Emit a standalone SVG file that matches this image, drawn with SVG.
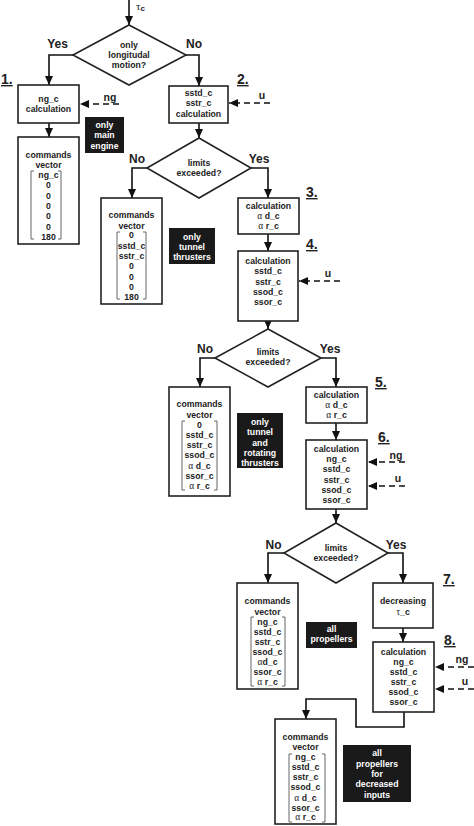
<svg xmlns="http://www.w3.org/2000/svg" width="474" height="826" viewBox="0 0 474 826">
<defs>
<marker id="ah" markerUnits="userSpaceOnUse" markerWidth="9" markerHeight="8" refX="9" refY="4" orient="auto">
<path d="M0,0 L9,4 L0,8 z" fill="#111"/>
</marker>
</defs>
<style>
text{font-family:"Liberation Sans",Arial,sans-serif;font-weight:bold;fill:#222;}
.t{font-size:8.7px;text-anchor:middle;}
.w{font-size:8.7px;text-anchor:middle;fill:#fff;}
.yn{font-size:12px;text-anchor:middle;}
.st{font-size:14px;text-decoration:underline;}
.in{font-size:10.5px;text-anchor:middle;}
.a{font-family:"Liberation Serif","Times New Roman",serif;font-weight:normal;font-size:9.5px;}
.box{fill:#fff;stroke:#222;stroke-width:1.6;}
.blk{fill:#1a1a1a;stroke:none;}
.ln{fill:none;stroke:#111;stroke-width:1.6;marker-end:url(#ah);}
.dash{fill:none;stroke:#111;stroke-width:1.5;stroke-dasharray:6 4;marker-end:url(#ah);}
.br{fill:none;stroke:#555;stroke-width:0.9;}
</style>

<g id="connectors">
<path class="ln" d="M129,0 V25"/>
<path class="ln" d="M73,55 H49 V85"/>
<path class="ln" d="M186,55 H199 V86"/>
<path class="ln" d="M49,123 V137"/>
<path class="ln" d="M199,123 V138"/>
<path class="ln" d="M147,168 H132 V198"/>
<path class="ln" d="M251,168 H268 V198"/>
<path class="ln" d="M268,234 V251"/>
<path class="ln" d="M268,321 V329"/>
<path class="ln" d="M215,358 H200 V387"/>
<path class="ln" d="M321,358 H336 V387"/>
<path class="ln" d="M336,423 V440"/>
<path class="ln" d="M336,509 V523"/>
<path class="ln" d="M284,553 H268 V583"/>
<path class="ln" d="M388,553 H403 V583"/>
<path class="ln" d="M403,628 V642"/>
<path class="ln" d="M404,712 V727 H356 V699 H306 V719"/>
<path class="dash" d="M119,104 H80"/>
<path class="dash" d="M270,103 H229"/>
<path class="dash" d="M340,281 H299"/>
<path class="dash" d="M405,462 H368"/>
<path class="dash" d="M405,486 H368"/>
<path class="dash" d="M474,667 H435"/>
<path class="dash" d="M474,689 H435"/>
</g>

<g id="input-labels">
<text x="136" y="10" style="font-size:11px;font-family:'Liberation Serif',serif;font-weight:normal;">τ<tspan style="font-family:'Liberation Sans',sans-serif;font-weight:bold;font-size:8px;" dy="1">c</tspan></text>
<text class="in" x="110" y="101">ng</text>
<text class="in" x="262" y="99">u</text>
<text class="in" x="328" y="277">u</text>
<text class="in" x="396" y="459">ng</text>
<text class="in" x="398" y="482">u</text>
<text class="in" x="462" y="663">ng</text>
<text class="in" x="465" y="685">u</text>
</g>

<g id="step-labels">
<text class="st" x="1" y="84">1.</text>
<text class="st" x="237" y="84">2.</text>
<text class="st" x="306" y="197">3.</text>
<text class="st" x="306" y="249">4.</text>
<text class="st" x="375" y="387">5.</text>
<text class="st" x="378" y="442">6.</text>
<text class="st" x="443" y="584">7.</text>
<text class="st" x="444" y="645">8.</text>
</g>

<g id="d1">
<polygon class="box" points="129,25 186,55 129,85 73,55"/>
<text class="t" x="129" y="48">only</text>
<text class="t" x="129" y="58">longitudal</text>
<text class="t" x="129" y="68">motion?</text>
<text class="yn" x="57.5" y="48">Yes</text>
<text class="yn" x="194" y="48">No</text>
</g>

<g id="box1">
<rect class="box" x="18" y="85" width="61" height="38"/>
<text class="t" x="48.5" y="102">ng_c</text>
<text class="t" x="48.5" y="112">calculation</text>
</g>

<g id="note1">
<rect class="blk" x="85" y="117" width="39" height="36"/>
<text class="w" x="104.5" y="128">only</text>
<text class="w" x="104.5" y="138">main</text>
<text class="w" x="104.5" y="148.5">engine</text>
</g>

<g id="cmd1">
<rect class="box" x="18" y="137" width="61" height="107"/>
<text class="t" x="48.5" y="158">commands</text>
<text class="t" x="48.5" y="168">vector</text>
<text class="t" x="48.5" y="178">ng_c</text>
<text class="t" x="48.5" y="188.3">0</text>
<text class="t" x="48.5" y="198.6">0</text>
<text class="t" x="48.5" y="209">0</text>
<text class="t" x="48.5" y="219.3">0</text>
<text class="t" x="48.5" y="229.6">0</text>
<text class="t" x="48.5" y="240">180</text>
<path class="br" d="M34,171 H31 V239 H34 M58,171 H61 V239 H58"/>
</g>

<g id="box2">
<rect class="box" x="169" y="86" width="59" height="37"/>
<text class="t" x="198.5" y="96">sstd_c</text>
<text class="t" x="198.5" y="106">sstr_c</text>
<text class="t" x="198.5" y="116.5">calculation</text>
</g>

<g id="d2">
<polygon class="box" points="199,138 251,168 199,198 147,168"/>
<text class="t" x="199" y="166">limits</text>
<text class="t" x="199" y="176">exceeded?</text>
<text class="yn" x="137" y="163">No</text>
<text class="yn" x="259" y="163">Yes</text>
</g>

<g id="cmd2">
<rect class="box" x="101" y="198" width="61" height="106"/>
<text class="t" x="131.5" y="218">commands</text>
<text class="t" x="131.5" y="228.7">vector</text>
<text class="t" x="131.5" y="238">0</text>
<text class="t" x="131.5" y="248.7">sstd_c</text>
<text class="t" x="131.5" y="259">sstr_c</text>
<text class="t" x="131.5" y="269">0</text>
<text class="t" x="131.5" y="279.7">0</text>
<text class="t" x="131.5" y="289.7">0</text>
<text class="t" x="131.5" y="300">180</text>
<path class="br" d="M120,232 H117 V299 H120 M143,232 H146 V299 H143"/>
</g>

<g id="note2">
<rect class="blk" x="169" y="228" width="46" height="36"/>
<text class="w" x="192" y="240">only</text>
<text class="w" x="192" y="250">tunnel</text>
<text class="w" x="192" y="260">thrusters</text>
</g>

<g id="box3">
<rect class="box" x="238" y="198" width="61" height="36"/>
<text class="t" x="268.5" y="209">calculation</text>
<text class="t" x="268.5" y="219"><tspan class="a">α</tspan> d_c</text>
<text class="t" x="268.5" y="229"><tspan class="a">α</tspan> r_c</text>
</g>

<g id="box4">
<rect class="box" x="238" y="251" width="60" height="70"/>
<text class="t" x="268" y="264">calculation</text>
<text class="t" x="268" y="274">sstd_c</text>
<text class="t" x="268" y="284.5">sstr_c</text>
<text class="t" x="268" y="294.5">ssod_c</text>
<text class="t" x="268" y="305">ssor_c</text>
</g>

<g id="d3">
<polygon class="box" points="268,329 321,358 268,387 215,358"/>
<text class="t" x="268" y="355">limits</text>
<text class="t" x="268" y="365">exceeded?</text>
<text class="yn" x="205" y="353">No</text>
<text class="yn" x="330" y="353">Yes</text>
</g>

<g id="cmd3">
<rect class="box" x="169" y="387" width="61" height="109"/>
<text class="t" x="199.5" y="407">commands</text>
<text class="t" x="199.5" y="418">vector</text>
<text class="t" x="199.5" y="428">0</text>
<text class="t" x="199.5" y="438">sstd_c</text>
<text class="t" x="199.5" y="448">sstr_c</text>
<text class="t" x="199.5" y="458">ssod_c</text>
<text class="t" x="199.5" y="469"><tspan class="a">α</tspan> d_c</text>
<text class="t" x="199.5" y="479">ssor_c</text>
<text class="t" x="199.5" y="489"><tspan class="a">α</tspan> r_c</text>
<path class="br" d="M185,421 H182 V490 H185 M214,421 H217 V490 H214"/>
</g>

<g id="note3">
<rect class="blk" x="237" y="413" width="46" height="55"/>
<text class="w" x="260" y="425">only</text>
<text class="w" x="260" y="435">tunnel</text>
<text class="w" x="260" y="445.5">and</text>
<text class="w" x="260" y="455.5">rotating</text>
<text class="w" x="260" y="466">thrusters</text>
</g>

<g id="box5">
<rect class="box" x="306" y="387" width="61" height="36"/>
<text class="t" x="336.5" y="397.5">calculation</text>
<text class="t" x="336.5" y="407.5"><tspan class="a">α</tspan> d_c</text>
<text class="t" x="336.5" y="417.5"><tspan class="a">α</tspan> r_c</text>
</g>

<g id="box6">
<rect class="box" x="306" y="440" width="61" height="69"/>
<text class="t" x="336.5" y="452">calculation</text>
<text class="t" x="336.5" y="462">ng_c</text>
<text class="t" x="336.5" y="472">sstd_c</text>
<text class="t" x="336.5" y="482.5">sstr_c</text>
<text class="t" x="336.5" y="493">ssod_c</text>
<text class="t" x="336.5" y="503">ssor_c</text>
</g>

<g id="d4">
<polygon class="box" points="336,523 388,553 336,583 284,553"/>
<text class="t" x="336" y="551">limits</text>
<text class="t" x="336" y="561">exceeded?</text>
<text class="yn" x="273.5" y="549">No</text>
<text class="yn" x="396" y="549">Yes</text>
</g>

<g id="cmd4">
<rect class="box" x="237" y="583" width="61" height="106"/>
<text class="t" x="267.5" y="604">commands</text>
<text class="t" x="267.5" y="614.7">vector</text>
<text class="t" x="267.5" y="624.7">ng_c</text>
<text class="t" x="267.5" y="634.7">sstd_c</text>
<text class="t" x="267.5" y="644.7">sstr_c</text>
<text class="t" x="267.5" y="654.7">ssod_c</text>
<text class="t" x="267.5" y="664.7"><tspan class="a">α</tspan>d_c</text>
<text class="t" x="267.5" y="674.7">ssor_c</text>
<text class="t" x="267.5" y="684.7"><tspan class="a">α</tspan> r_c</text>
<path class="br" d="M254,617 H251 V686 H254 M282,617 H285 V686 H282"/>
</g>

<g id="note4">
<rect class="blk" x="306" y="622" width="51" height="26"/>
<text class="w" x="331.5" y="631.5">all</text>
<text class="w" x="331.5" y="642">propellers</text>
</g>

<g id="box7">
<rect class="box" x="373" y="583" width="60" height="45"/>
<text class="t" x="403" y="604">decreasing</text>
<text class="t" x="403" y="615"><tspan class="a">τ</tspan>_c</text>
</g>

<g id="box8">
<rect class="box" x="373" y="642" width="61" height="70"/>
<text class="t" x="403.5" y="655">calculation</text>
<text class="t" x="403.5" y="665">ng_c</text>
<text class="t" x="403.5" y="675">sstd_c</text>
<text class="t" x="403.5" y="685">sstr_c</text>
<text class="t" x="403.5" y="695">ssod_c</text>
<text class="t" x="403.5" y="705">ssor_c</text>
</g>

<g id="cmd5">
<rect class="box" x="275" y="719" width="61" height="105"/>
<text class="t" x="305.5" y="740">commands</text>
<text class="t" x="305.5" y="750">vector</text>
<text class="t" x="305.5" y="760">ng_c</text>
<text class="t" x="305.5" y="770.3">sstd_c</text>
<text class="t" x="305.5" y="780.3">sstr_c</text>
<text class="t" x="305.5" y="790.3">ssod_c</text>
<text class="t" x="305.5" y="801"><tspan class="a">α</tspan> d_c</text>
<text class="t" x="305.5" y="810.7">ssor_c</text>
<text class="t" x="305.5" y="820.3"><tspan class="a">α</tspan> r_c</text>
<path class="br" d="M292,754 H289 V822 H292 M322,754 H325 V822 H322"/>
</g>

<g id="note5">
<rect class="blk" x="343" y="745" width="68" height="57"/>
<text class="w" x="377" y="756">all</text>
<text class="w" x="377" y="766.5">propellers</text>
<text class="w" x="377" y="777">for</text>
<text class="w" x="377" y="787">decreased</text>
<text class="w" x="377" y="797.5">inputs</text>
</g>
</svg>
